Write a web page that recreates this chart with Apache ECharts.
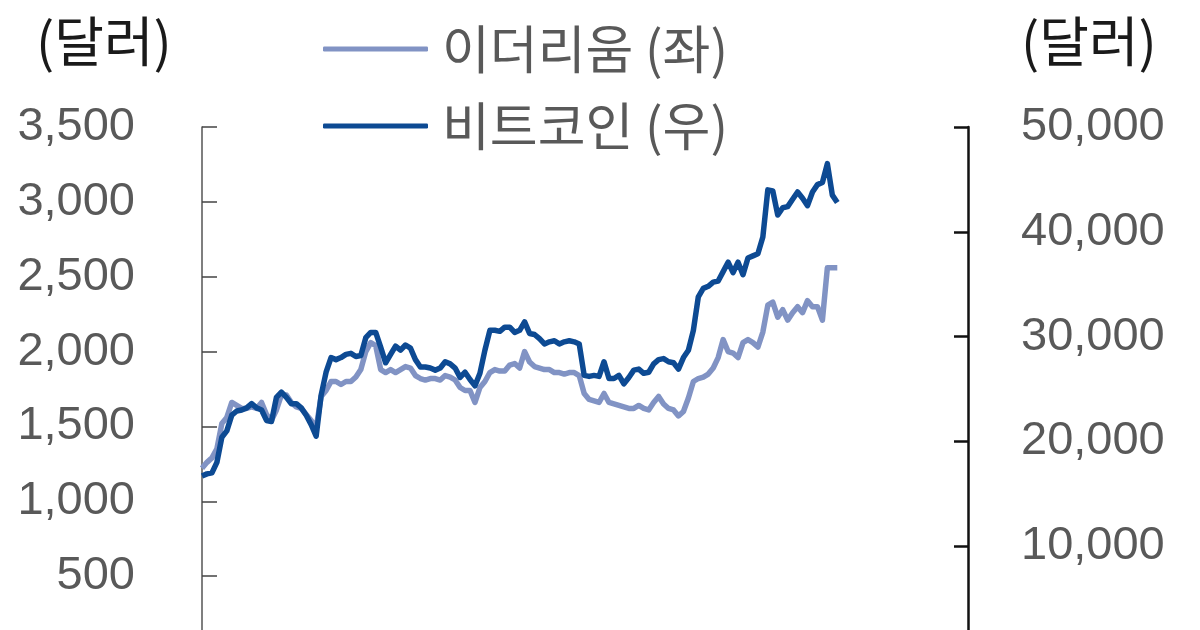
<!DOCTYPE html>
<html>
<head>
<meta charset="utf-8">
<script src="https://cdn.jsdelivr.net/npm/echarts@6/dist/echarts.min.js"></script>
<style>
html,body{margin:0;padding:0;background:#fff;overflow:hidden;width:1200px;height:630px;}
#chart{width:1200px;height:700px;}
</style>
</head>
<body>
<div id="chart"></div>
<script>
// Sampling: one reading every 3 days starting 2023-01-01
const startDate = '2023-01-01';
const stepDays = 3;
const axisEndDate = '2024-04-08';

const seriesNames = ['이더리움 (좌)', '비트코인 (우)'];
const unitLabel = '(달러)';

// Ethereum (USD, left axis)
const ethValues = [
  1220,1260,1290,1350,1520,1560,1660,1640,1620,1620,
  1630,1620,1660,1580,1540,1610,1710,1710,1660,1630,
  1620,1580,1540,1490,1700,1740,1800,1800,1780,1800,
  1800,1830,1880,2000,2060,2040,1880,1860,1880,1860,
  1880,1900,1890,1840,1820,1810,1820,1820,1810,1840,
  1830,1810,1760,1740,1740,1660,1760,1800,1860,1880,
  1870,1870,1910,1920,1890,2000,1930,1900,1890,1880,
  1880,1860,1860,1850,1860,1860,1840,1720,1680,1670,
  1660,1720,1660,1650,1640,1630,1620,1620,1640,1620,
  1610,1660,1700,1650,1620,1610,1570,1600,1690,1800,
  1820,1830,1850,1890,1960,2080,2000,1990,1960,2060,
  2080,2060,2030,2130,2310,2330,2230,2280,2210,2260,
  2300,2260,2340,2300,2300,2210,2560,2560,2560
];

// Bitcoin (USD, right axis)
const btcValues = [
  16700,16900,17000,18000,20400,21000,22500,22900,23000,23200,
  23600,23200,23000,22000,21900,24200,24700,24200,23600,23600,
  23200,22500,21600,20500,24400,26600,28000,27800,28000,28300,
  28400,28100,28200,29900,30400,30400,29000,27500,28300,29100,
  28700,29200,28900,27800,27100,27100,27000,26800,27000,27600,
  27400,27000,26100,26600,25900,25300,26500,28700,30600,30600,
  30500,30900,30900,30400,30600,31400,30300,30200,29800,29300,
  29500,29600,29300,29500,29600,29500,29300,26300,26200,26300,
  26200,27600,26000,26000,26300,25500,26100,26800,26900,26500,
  26600,27400,27800,27900,27600,27500,26900,28000,28700,30600,
  33800,34600,34800,35200,35300,36200,37100,36100,37100,35900,
  37500,37700,37900,39500,44000,43900,41600,42300,42400,43100,
  43800,43200,42500,43800,44500,44700,46500,43500,42800
];

const leftTicks = [0, 500, 1000, 1500, 2000, 2500, 3000, 3500];
const rightTicks = [0, 10000, 20000, 30000, 40000, 50000];

const DAY = 86400000;
const t0 = Date.parse(startDate + 'T00:00:00Z');
const dates = ethValues.map((_, i) => t0 + i * stepDays * DAY);

const ethColor = '#8193c4';
const btcColor = '#0d4a93';
const labelColor = '#595959';
const numFont = "'Liberation Sans', Arial, sans-serif";
const krFont = "'Noto Sans CJK KR', 'Noto Sans', sans-serif";
const fmt = v => Number(v).toLocaleString('en-US');

const chart = echarts.init(document.getElementById('chart'), null, {renderer: 'canvas'});
chart.setOption({
  animation: false,
  backgroundColor: '#ffffff',
  grid: {left: 202, right: 232, top: 127, bottom: 49, containLabel: false},
  legend: {
    orient: 'vertical',
    left: 323,
    top: 18,
    padding: 0,
    itemWidth: 105,
    itemHeight: 5,
    itemGap: 15,
    icon: 'roundRect',
    data: seriesNames,
    textStyle: {
      fontFamily: krFont,
      fontSize: 52,
      color: labelColor,
      lineHeight: 62,
      padding: [0, 0, 0, 9]
    }
  },
  graphic: [
    {type: 'text', left: 36, top: 14, style: {text: unitLabel, font: "54px " + krFont, fill: '#1a1a1a'}},
    {type: 'text', left: 1021, top: 14, style: {text: unitLabel, font: "54px " + krFont, fill: '#1a1a1a'}}
  ],
  xAxis: {
    type: 'time',
    min: t0,
    max: Date.parse(axisEndDate + 'T00:00:00Z'),
    show: false
  },
  yAxis: [
    {
      type: 'value',
      position: 'left',
      min: leftTicks[0],
      max: leftTicks[leftTicks.length - 1],
      interval: leftTicks[1] - leftTicks[0],
      axisLine: {show: true, lineStyle: {color: '#555555', width: 1.5}},
      axisTick: {show: true, inside: true, length: 15, lineStyle: {color: '#444444', width: 1.5}},
      splitLine: {show: false},
      axisLabel: {
        margin: 67,
        color: labelColor,
        fontFamily: numFont,
        fontSize: 47,
        padding: [3, 0, 0, 0],
        formatter: fmt
      }
    },
    {
      type: 'value',
      position: 'right',
      min: rightTicks[0],
      max: rightTicks[rightTicks.length - 1],
      interval: rightTicks[1] - rightTicks[0],
      axisLine: {show: true, lineStyle: {color: '#111111', width: 2.5}},
      axisTick: {show: true, inside: true, length: 14, lineStyle: {color: '#111111', width: 2.5}},
      splitLine: {show: false},
      axisLabel: {
        margin: 53,
        color: labelColor,
        fontFamily: numFont,
        fontSize: 47,
        padding: [3, 0, 0, 0],
        formatter: fmt
      }
    }
  ],
  series: [
    {
      name: seriesNames[0],
      type: 'line',
      yAxisIndex: 0,
      showSymbol: false,
      symbol: 'none',
      color: ethColor,
      lineStyle: {color: ethColor, width: 5.5, join: 'round'},
      data: dates.map((d, i) => [d, ethValues[i]])
    },
    {
      name: seriesNames[1],
      type: 'line',
      yAxisIndex: 1,
      showSymbol: false,
      symbol: 'none',
      color: btcColor,
      lineStyle: {color: btcColor, width: 5.5, join: 'round'},
      data: dates.map((d, i) => [d, btcValues[i]])
    }
  ]
});
</script>
</body>
</html>
